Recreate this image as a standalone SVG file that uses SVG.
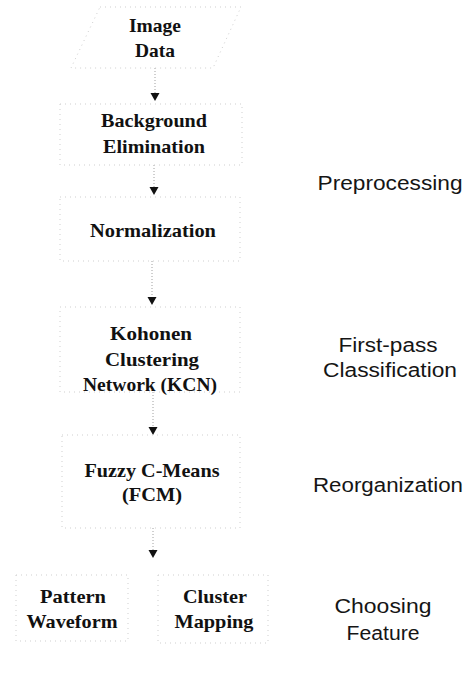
<svg xmlns="http://www.w3.org/2000/svg" width="474" height="680" viewBox="0 0 474 680">
<style>
.box{fill:none;stroke:#cfcfcf;stroke-width:1;stroke-dasharray:1 4}
.conn{fill:none;stroke:#a0a0a0;stroke-width:1;stroke-dasharray:1 2}
.head{fill:#111}
.n{font-family:"Liberation Serif","Times New Roman",serif;font-weight:bold;font-size:19px;fill:#111;text-anchor:middle}
.s{font-family:"Liberation Sans",Arial,sans-serif;font-size:20px;fill:#151515;text-anchor:middle}
</style>
<rect width="474" height="680" fill="#fff"/>
<g id="connectors">
<line class="conn" x1="155" y1="68" x2="155" y2="93"/>
<polygon class="head" points="150.5,93 159.5,93 155,101"/>
<line class="conn" x1="154" y1="165" x2="154" y2="187"/>
<polygon class="head" points="149.5,187 158.5,187 154,195"/>
<line class="conn" x1="152" y1="261" x2="152" y2="297"/>
<polygon class="head" points="147.5,297 156.5,297 152,305"/>
<line class="conn" x1="153" y1="392" x2="153" y2="427"/>
<polygon class="head" points="148.5,427 157.5,427 153,435"/>
<line class="conn" x1="153" y1="528" x2="153" y2="550"/>
<polygon class="head" points="148.5,550 157.5,550 153,558"/>
</g>
<g id="image-data">
<polygon class="box" points="100,7 241,7 213,68 71,68"/>
<text class="n" x="155" y="32" textLength="52" lengthAdjust="spacingAndGlyphs">Image</text>
<text class="n" x="155" y="57" textLength="40" lengthAdjust="spacingAndGlyphs">Data</text>
</g>
<g id="background-elimination">
<rect class="box" x="60" y="104" width="182" height="61"/>
<text class="n" x="154" y="127" textLength="106" lengthAdjust="spacingAndGlyphs">Background</text>
<text class="n" x="154" y="153" textLength="102" lengthAdjust="spacingAndGlyphs">Elimination</text>
</g>
<g id="normalization">
<rect class="box" x="60" y="197" width="180" height="64"/>
<text class="n" x="153" y="237" textLength="126" lengthAdjust="spacingAndGlyphs">Normalization</text>
</g>
<g id="kcn">
<rect class="box" x="60" y="307" width="180" height="85"/>
<text class="n" x="151" y="340" textLength="82" lengthAdjust="spacingAndGlyphs">Kohonen</text>
<text class="n" x="152" y="366" textLength="94" lengthAdjust="spacingAndGlyphs">Clustering</text>
<text class="n" x="150" y="391" textLength="134" lengthAdjust="spacingAndGlyphs">Network (KCN)</text>
</g>
<g id="fcm">
<rect class="box" x="62" y="435" width="178" height="93"/>
<text class="n" x="152" y="477" textLength="135" lengthAdjust="spacingAndGlyphs">Fuzzy C-Means</text>
<text class="n" x="152" y="501" textLength="60" lengthAdjust="spacingAndGlyphs">(FCM)</text>
</g>
<g id="pattern-waveform">
<rect class="box" x="16" y="575" width="112" height="66"/>
<text class="n" x="73" y="603" textLength="66" lengthAdjust="spacingAndGlyphs">Pattern</text>
<text class="n" x="72" y="628" textLength="91" lengthAdjust="spacingAndGlyphs">Waveform</text>
</g>
<g id="cluster-mapping">
<rect class="box" x="158" y="575" width="110" height="68"/>
<text class="n" x="215" y="603" textLength="64" lengthAdjust="spacingAndGlyphs">Cluster</text>
<text class="n" x="214" y="628" textLength="79" lengthAdjust="spacingAndGlyphs">Mapping</text>
</g>
<g id="stage-labels">
<text class="s" x="390" y="190" textLength="145" lengthAdjust="spacingAndGlyphs">Preprocessing</text>
<text class="s" x="388" y="352" textLength="99" lengthAdjust="spacingAndGlyphs">First-pass</text>
<text class="s" x="390" y="377" textLength="134" lengthAdjust="spacingAndGlyphs">Classification</text>
<text class="s" x="388" y="492" textLength="150" lengthAdjust="spacingAndGlyphs">Reorganization</text>
<text class="s" x="383" y="613" textLength="97" lengthAdjust="spacingAndGlyphs">Choosing</text>
<text class="s" x="383" y="640" textLength="73" lengthAdjust="spacingAndGlyphs">Feature</text>
</g>
</svg>
